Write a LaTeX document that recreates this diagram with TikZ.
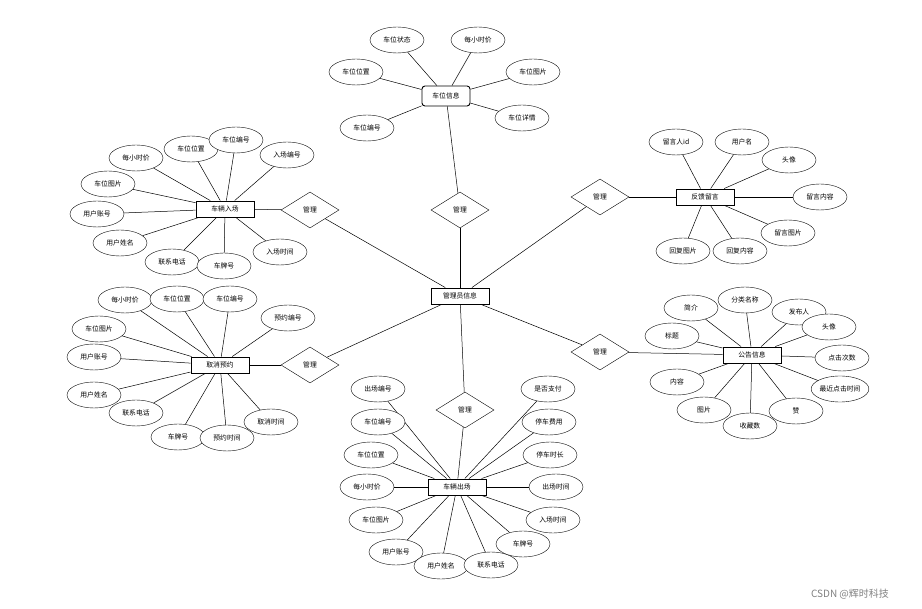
\documentclass[tikz,border=0pt]{standalone}
\usepackage{fontspec}
\setmainfont{Noto Sans CJK SC}
\usetikzlibrary{shapes.geometric}
\begin{document}
\begin{tikzpicture}[x=1pt,y=-1pt,font=\fontsize{6.8}{7}\selectfont,
  attr/.style={ellipse,draw,minimum width=54pt,minimum height=26pt,inner sep=0pt,fill=white},
  ent/.style={rectangle,draw,line width=0.9pt,minimum width=58pt,minimum height=16pt,inner sep=1pt,fill=white},
  rel/.style={diamond,draw,aspect=1.6,minimum width=58pt,minimum height=36pt,inner sep=0pt,fill=white},
  ln/.style={draw,line width=0.5pt}]
\useasboundingbox (0,0) rectangle (922,609);
% center
\node[ent] (C) at (460,296) {管理员信息};
% relations
\node[rel] (R1) at (460,210) {管理};
\node[rel] (R2) at (310,210) {管理};
\node[rel] (R3) at (310,365) {管理};
\node[rel] (R4) at (465,410) {管理};
\node[rel] (R5) at (600,197) {管理};
\node[rel] (R6) at (600,352) {管理};
% entities
\node[ent,rounded corners=3pt,minimum width=48pt,minimum height=20pt] (E1) at (446,96) {车位信息};
\node[ent] (E2) at (225,209) {车辆入场};
\node[ent] (E3) at (220,365) {取消预约};
\node[ent] (E4) at (457,487) {车辆出场};
\node[ent] (E5) at (705,197) {反馈留言};
\node[ent] (E6) at (752,355) {公告信息};
\foreach \r/\e in {R1/E1,R2/E2,R3/E3,R4/E4,R5/E5,R6/E6}{
  \draw[ln] (C) -- (\r); \draw[ln] (\r) -- (\e);}
% attributes
\foreach \i/\x/\y/\t in {1/397/40/车位状态,2/478/40/每小时价,3/356/72/车位位置,4/533/72/车位图片,5/367/128/车位编号,6/522/118/车位详情}
  {\node[attr] (A1-\i) at (\x,\y) {\t}; \draw[ln] (A1-\i) -- (E1);}
\foreach \i/\x/\y/\t in {1/136/158/每小时价,2/191/149/车位位置,3/236/140/车位编号,4/287/155/入场编号,5/108/184/车位图片,6/97/214/用户账号,7/120/243/用户姓名,8/172/262/联系电话,9/224/266/车牌号,10/280/252/入场时间}
  {\node[attr] (A2-\i) at (\x,\y) {\t}; \draw[ln] (A2-\i) -- (E2);}
\foreach \i/\x/\y/\t in {1/125/300/每小时价,2/177/299/车位位置,3/230/299/车位编号,4/288/318/预约编号,5/99/329/车位图片,6/94/357/用户账号,7/94/395/用户姓名,8/136/413/联系电话,9/178/437/车牌号,10/227/438/预约时间,11/271/422/取消时间}
  {\node[attr] (A3-\i) at (\x,\y) {\t}; \draw[ln] (A3-\i) -- (E3);}
\foreach \i/\x/\y/\t in {1/378/389/出场编号,2/378/422/车位编号,3/371/455/车位位置,4/367/487/每小时价,5/376/520/车位图片,6/396/552/用户账号,7/441/566/用户姓名,8/491/565/联系电话,9/523/544/车牌号,10/553/520/入场时间,11/556/487/出场时间,12/550/455/停车时长,13/549/422/停车费用,14/548/389/是否支付}
  {\node[attr] (A4-\i) at (\x,\y) {\t}; \draw[ln] (A4-\i) -- (E4);}
\foreach \i/\x/\y/\t in {1/676/142/留言人id,2/742/142/用户名,3/789/160/头像,4/820/197/留言内容,5/788/233/留言图片,6/740/251/回复内容,7/683/251/回复图片}
  {\node[attr] (A5-\i) at (\x,\y) {\t}; \draw[ln] (A5-\i) -- (E5);}
\foreach \i/\x/\y/\t in {1/691/308/简介,2/745/300/分类名称,3/799/312/发布人,4/829/327/头像,5/842/358/点击次数,6/840/389/最近点击时间,7/796/411/赞,8/750/426/收藏数,9/704/410/图片,10/677/382/内容,11/672/336/标题}
  {\node[attr] (A6-\i) at (\x,\y) {\t}; \draw[ln] (A6-\i) -- (E6);}
\node[text=gray,font=\fontsize{10}{12}\selectfont] (wm) at (850,594) {CSDN @辉时科技};
\end{tikzpicture}
\end{document}
